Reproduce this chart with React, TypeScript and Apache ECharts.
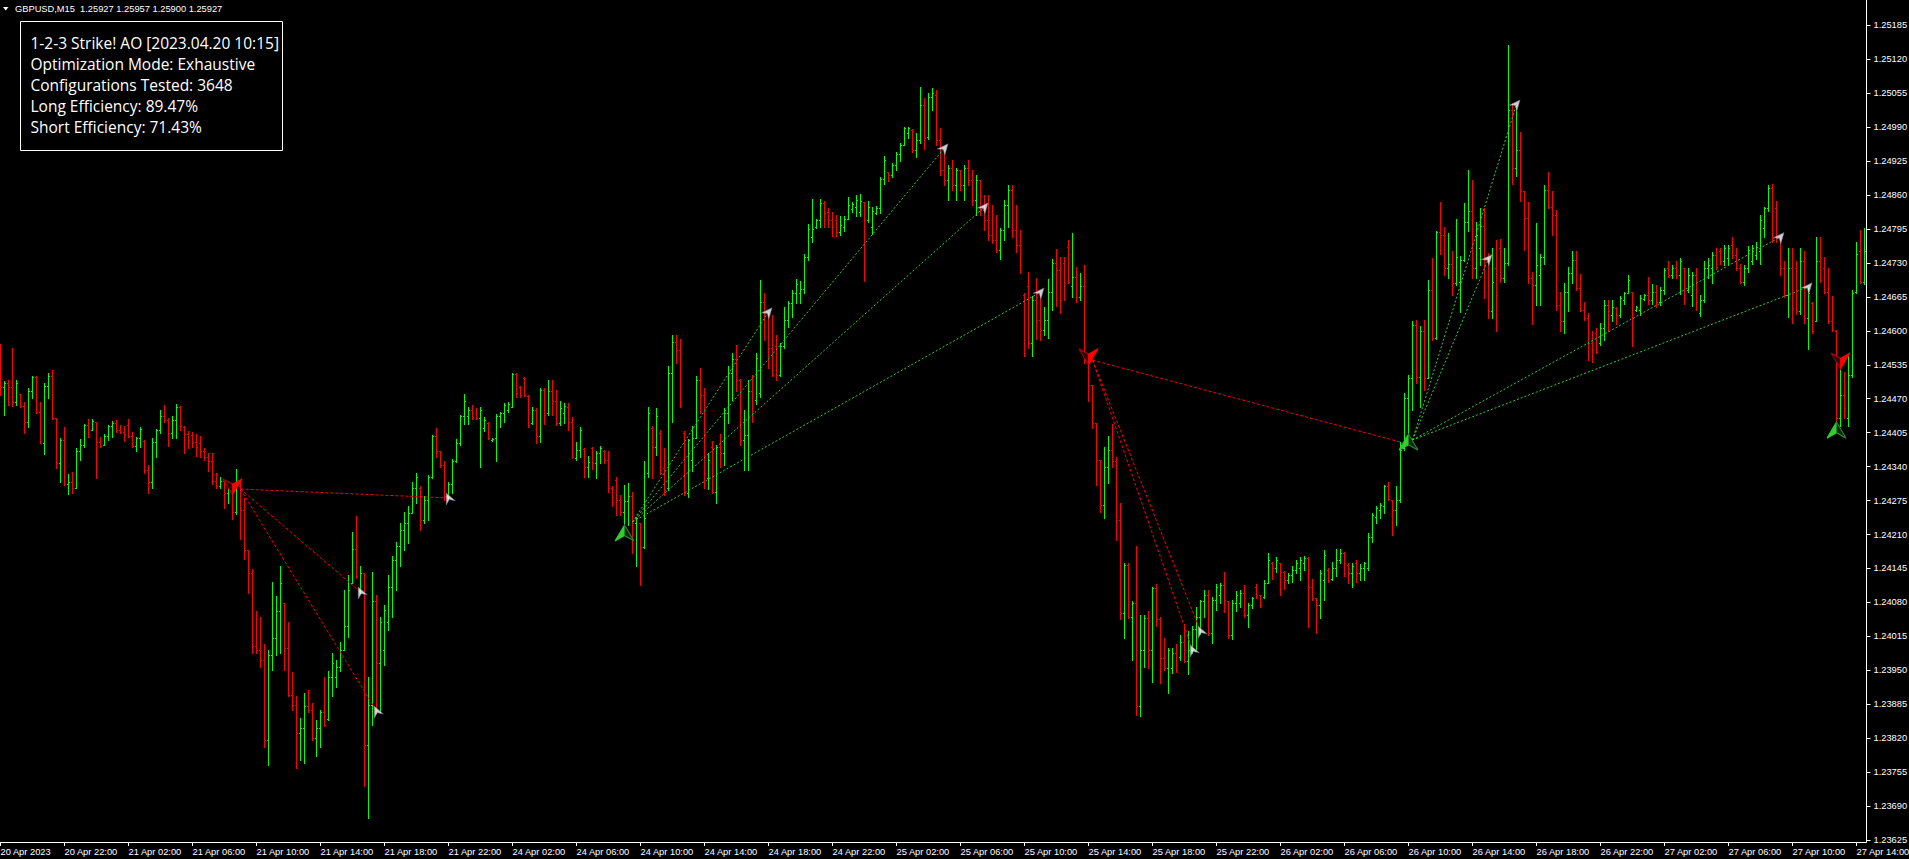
import React, { useEffect, useRef } from 'react';
import * as echarts from 'echarts';

// OHLC bars (M15), values in points (1e-5) above 1.00000: [open, high, low, close]
const apr20 = [
  [24563,24575,24477,24493],[24493,24503,24438,24500],[24500,24506,24458,24492],[24492,24567,24456,24464],
  [24464,24506,24458,24500],[24480,24480,24454,24456],[24456,24464,24405,24426],[24426,24490,24415,24484],
  [24484,24514,24471,24512],[24512,24514,24442,24445],[24445,24464,24385,24386],[24386,24500,24364,24494],
  [24494,24519,24471,24514],[24514,24525,24431,24433],[24433,24433,24337,24346],[24346,24394,24311,24391],
  [24391,24415,24305,24307],[24307,24326,24288,24311],[24311,24329,24289,24299],[24300,24375,24300,24369],
  [24369,24392,24353,24381],[24381,24422,24378,24420],[24420,24431,24396,24397],[24410,24431,24410,24428],
];
const apr21 = [
  [24426,24426,24318,24388],[24388,24396,24378,24380],[24381,24403,24381,24399],[24399,24420,24391,24417],
  [24417,24428,24397,24424],[24424,24429,24407,24410],[24410,24420,24404,24407],[24407,24417,24389,24403],
  [24420,24431,24397,24399],[24399,24407,24378,24380],[24380,24397,24369,24394],[24394,24415,24377,24412],
  [24390,24391,24327,24334],[24334,24343,24289,24311],[24311,24394,24300,24388],[24388,24412,24359,24410],
  [24410,24448,24405,24437],[24437,24458,24426,24429],[24429,24434,24380,24404],[24404,24436,24394,24429],
  [24429,24460,24394,24454],[24454,24457,24410,24417],[24415,24417,24367,24403],[24403,24408,24375,24391],
  [24401,24407,24378,24388],[24388,24403,24360,24378],[24385,24399,24358,24369],[24369,24375,24353,24359],
  [24359,24366,24332,24350],[24350,24367,24307,24313],[24313,24327,24299,24303],[24303,24321,24299,24313],
  [24313,24315,24260,24289],[24289,24311,24271,24305],[24289,24289,24239,24254],[24254,24335,24249,24302],
  [24302,24313,24201,24257],[24257,24279,24163,24181],[24181,24181,24098,24137],[24137,24144,23983,23997],
  [23997,24063,23983,23989],[23989,24052,23957,23970],[23970,24001,23803,23817],[23817,23989,23769,23980],
  [23980,24120,23951,24011],[24011,24093,23980,24063],[24063,24150,23984,24117],[24078,24078,23951,23992],
  [23992,24043,23900,23903],[23903,23946,23874,23884],[23884,23900,23763,23830],[23830,23858,23779,23839],
  [23839,23906,23772,23881],[23881,23913,23871,23874],[23874,23887,23816,23820],[23820,23855,23785,23839],
  [23839,23874,23804,23871],[23871,23938,23844,23846],[23856,23948,23855,23938],[23938,23983,23900,23964],
  [23938,23970,23919,23957],[23957,24005,23948,23989],[23989,24104,23988,24034],[24034,24133,24013,24104],
  [24117,24214,24117,24182],[24182,24246,24126,24130],[24101,24149,24098,24136],[24136,24136,23728,23807],
  [23807,23938,23667,23884],[23884,24139,23846,24082],[24082,24094,23868,23964],[23964,24053,23871,24043],
  [23989,24075,23960,24066],[24043,24133,24027,24110],[24110,24168,24053,24161],[24161,24196,24104,24188],
  [24188,24232,24149,24219],[24219,24254,24181,24233],[24233,24265,24193,24251],[24252,24311,24252,24299],
  [24299,24327,24270,24321],[24299,24302,24218,24238],[24238,24283,24232,24276],[24276,24324,24237,24321],
  [24321,24401,24318,24399],[24399,24413,24359,24369],[24369,24369,24340,24343],[24343,24350,24276,24283],
  [24283,24311,24279,24307],[24307,24354,24289,24350],[24350,24392,24348,24385],[24385,24439,24381,24437],
  [24437,24479,24422,24466],[24436,24454,24422,24448],[24449,24458,24431,24435],[24442,24452,24431,24433],
];
const apr24 = [
  [24433,24454,24340,24449],[24414,24435,24409,24429],[24424,24426,24392,24394],[24391,24394,24390,24392],
  [24394,24441,24350,24436],[24436,24445,24415,24442],[24442,24461,24426,24458],[24449,24463,24444,24460],
  [24455,24519,24454,24517],[24517,24519,24474,24481],[24493,24495,24474,24477],[24509,24511,24475,24477],
  [24475,24477,24415,24420],[24423,24455,24422,24449],[24449,24452,24385,24398],[24398,24490,24388,24487],
  [24487,24490,24422,24439],[24442,24506,24439,24484],[24484,24506,24439,24465],[24465,24487,24420,24423],
  [24423,24465,24420,24452],[24442,24461,24423,24456],[24455,24461,24410,24426],[24426,24435,24356,24359],
  [24356,24388,24352,24372],[24372,24415,24359,24410],[24373,24375,24321,24340],[24340,24361,24321,24348],
  [24375,24377,24335,24347],[24347,24369,24318,24366],[24366,24380,24347,24375],[24369,24371,24347,24353],
  [24353,24369,24292,24299],[24299,24302,24264,24273],[24315,24320,24248,24276],[24276,24286,24248,24254],
  [24254,24305,24232,24275],[24275,24308,24229,24283],[24283,24292,24174,24232],[24232,24244,24149,24241],
  [24232,24233,24114,24187],[24187,24350,24184,24241],[24327,24454,24321,24442],[24414,24417,24318,24378],
  [24378,24452,24362,24436],[24404,24410,24326,24327],[24337,24375,24286,24296],[24299,24532,24296,24519],
  [24519,24592,24426,24579],[24579,24592,24538,24563],[24563,24584,24455,24458],[24404,24409,24286,24289],
  [24289,24392,24281,24391],[24353,24417,24331,24394],[24394,24514,24394,24506],[24506,24528,24442,24477],
  [24477,24490,24299,24327],[24318,24367,24297,24353],[24378,24390,24289,24292],[24292,24382,24270,24378],
  [24378,24403,24339,24366],[24366,24452,24343,24442],[24442,24533,24423,24519],[24519,24558,24468,24546],
  [24546,24573,24484,24506],[24506,24507,24382,24391],[24391,24449,24333,24401],[24401,24506,24333,24484],
  [24484,24516,24426,24442],[24468,24557,24460,24548],[24481,24697,24474,24656],[24656,24673,24583,24634],
  [24634,24634,24528,24567],[24567,24630,24514,24516],[24570,24592,24506,24516],[24516,24576,24514,24570],
  [24570,24646,24567,24620],[24620,24658,24608,24654],[24654,24678,24626,24672],[24672,24699,24654,24690],
  [24672,24696,24654,24681],[24681,24748,24672,24741],[24741,24805,24736,24794],[24780,24852,24771,24794],
  [24799,24815,24796,24812],[24812,24852,24799,24845],[24845,24849,24798,24825],[24828,24835,24799,24812],
  [24812,24828,24782,24799],[24812,24822,24782,24790],[24790,24819,24784,24803],[24799,24820,24792,24814],
  [24814,24857,24814,24841],[24833,24847,24828,24843],[24838,24860,24819,24851],[24828,24862,24820,24849],
];
const apr25 = [
  [24847,24847,24696,24812],[24812,24849,24809,24838],[24799,24838,24785,24830],[24825,24839,24824,24836],
  [24835,24894,24825,24890],[24890,24935,24882,24927],[24905,24905,24886,24898],[24898,24921,24895,24918],
  [24918,24943,24908,24939],[24939,24960,24926,24956],[24956,24991,24956,24988],[24978,24991,24969,24988],
  [24985,24986,24943,24946],[24946,24979,24932,24965],[24965,25067,24960,25032],[25032,25045,24949,24969],
  [24972,25055,24967,25048],[25048,25065,25023,25055],[25052,25061,24956,24965],[24965,24988,24898,24908],
  [24908,24946,24879,24889],[24889,24917,24850,24912],[24912,24927,24870,24879],[24879,24912,24850,24908],
  [24908,24908,24870,24879],[24879,24917,24850,24912],[24912,24927,24879,24889],[24889,24908,24841,24850],
  [24850,24898,24822,24889],[24889,24889,24822,24831],[24831,24860,24793,24812],[24812,24860,24774,24783],
  [24783,24841,24768,24774],[24774,24822,24751,24755],[24755,24797,24737,24793],[24793,24850,24774,24841],
  [24841,24879,24799,24870],[24870,24879,24780,24793],[24793,24841,24751,24764],[24764,24793,24711,24726],
  [24669,24672,24551,24557],[24685,24713,24567,24576],[24576,24667,24551,24659],[24659,24701,24584,24621],
  [24621,24669,24583,24602],[24602,24645,24592,24621],[24621,24699,24586,24675],[24675,24737,24640,24729],
  [24729,24756,24648,24717],[24717,24742,24635,24659],[24729,24741,24659,24691],[24761,24774,24691,24694],
  [24685,24788,24664,24704],[24704,24723,24656,24665],[24665,24710,24659,24685],[24685,24726,24538,24544],
  [24538,24538,24465,24496],[24496,24496,24413,24423],[24423,24423,24305,24353],[24353,24353,24254,24267],
  [24267,24378,24241,24340],[24340,24398,24308,24372],[24372,24422,24340,24350],[24350,24359,24200,24238],
  [24238,24270,24048,24059],[24059,24155,24012,24152],[24152,24155,24050,24053],[24053,24082,23970,24079],
  [24079,24188,23865,23881],[23881,24056,23862,23989],[23989,24056,23957,24050],[24050,24064,23954,23989],
  [23989,24110,23927,24107],[24107,24116,24034,24048],[24048,24052,23925,23973],[23973,24012,23951,23954],
  [23954,23992,23906,23989],[23954,23992,23945,23983],[23983,24001,23946,23951],[23976,24018,23970,24005],
  [24005,24039,23965,23967],[23967,24026,23943,23989],[23989,24034,23983,24029],[24029,24072,23989,24053],
  [24053,24085,24020,24082],[24082,24104,24053,24094],[24094,24103,24018,24021],[24021,24091,24002,24085],
  [24085,24116,24066,24110],[24094,24117,24079,24114],[24114,24139,24061,24085],[24082,24082,24012,24018],
  [24018,24085,24010,24079],[24079,24101,24063,24094],[24079,24104,24072,24098],[24098,24114,24053,24056],
];
const apr26 = [
  [24056,24079,24033,24075],[24075,24091,24069,24088],[24110,24116,24088,24094],[24094,24094,24072,24075],
  [24091,24123,24088,24117],[24117,24174,24117,24161],[24155,24158,24124,24146],[24146,24167,24139,24161],
  [24155,24155,24094,24139],[24139,24141,24105,24123],[24123,24137,24117,24133],[24133,24149,24120,24142],
  [24142,24161,24136,24156],[24146,24167,24122,24161],[24155,24168,24142,24165],[24165,24167,24033,24110],
  [24110,24124,24085,24088],[24088,24088,24021,24075],[24075,24142,24050,24136],[24123,24181,24084,24171],
  [24142,24146,24120,24123],[24124,24158,24122,24146],[24146,24182,24130,24161],[24161,24182,24155,24174],
  [24174,24177,24130,24155],[24152,24155,24117,24136],[24136,24155,24109,24149],[24155,24161,24120,24136],
  [24136,24154,24123,24146],[24146,24158,24123,24155],[24146,24213,24142,24206],[24206,24251,24195,24248],
  [24244,24265,24233,24260],[24257,24270,24241,24267],[24264,24305,24251,24302],[24302,24311,24276,24278],
  [24276,24276,24209,24257],[24257,24302,24228,24276],[24276,24387,24272,24372],[24376,24481,24372,24471],
  [24471,24516,24401,24509],[24509,24618,24449,24611],[24611,24621,24500,24512],[24512,24610,24455,24599],
  [24599,24621,24487,24509],[24509,24698,24509,24678],[24678,24740,24583,24586],[24586,24791,24584,24790],
  [24790,24847,24747,24784],[24784,24798,24706,24720],[24720,24787,24702,24728],[24728,24753,24668,24691],
  [24691,24814,24688,24742],[24694,24744,24636,24736],[24736,24845,24734,24809],[24809,24908,24791,24830],
  [24830,24889,24702,24720],[24720,24809,24702,24784],[24758,24836,24726,24800],[24800,24836,24662,24742],
  [24742,24749,24624,24637],[24637,24758,24624,24694],[24720,24774,24599,24669],[24758,24776,24694,24701],
  [24701,24758,24694,24729],[24729,25147,24726,25023],[25023,25036,24881,24911],[24911,25027,24897,24946],
  [24946,24981,24849,24867],[24867,24867,24755,24816],[24816,24847,24691,24701],[24701,24713,24613,24688],
  [24688,24806,24650,24726],[24707,24747,24650,24742],[24742,24879,24728,24870],[24870,24905,24836,24838],
  [24838,24868,24784,24822],[24822,24831,24640,24650],[24650,24675,24600,24619],[24619,24691,24595,24675],
  [24675,24723,24638,24710],[24710,24752,24691,24736],[24736,24753,24678,24682],[24682,24708,24637,24640],
  [24640,24655,24621,24624],[24624,24634,24544,24576],[24576,24600,24541,24564],[24595,24605,24557,24560],
  [24576,24615,24573,24605],[24605,24659,24583,24650],[24650,24659,24600,24637],[24631,24659,24619,24646],
  [24643,24645,24613,24631],[24631,24666,24627,24662],[24659,24675,24651,24672],[24672,24706,24672,24698],
];
const apr27 = [
  [24675,24675,24570,24624],[24640,24648,24638,24646],[24640,24669,24631,24662],[24661,24670,24659,24669],
  [24669,24704,24651,24659],[24659,24689,24651,24675],[24675,24688,24646,24656],[24656,24683,24650,24678],
  [24678,24721,24670,24717],[24720,24733,24704,24707],[24707,24726,24702,24720],[24720,24734,24702,24707],
  [24707,24740,24670,24733],[24720,24720,24651,24662],[24678,24720,24674,24707],[24669,24713,24648,24707],
  [24707,24720,24640,24656],[24634,24668,24629,24659],[24659,24733,24656,24720],[24720,24739,24701,24726],
  [24720,24750,24691,24745],[24745,24758,24719,24723],[24752,24759,24728,24733],[24733,24765,24726,24758],
  [24739,24765,24726,24758],[24765,24779,24740,24745],[24745,24759,24717,24720],[24720,24728,24691,24694],
  [24694,24726,24687,24720],[24720,24763,24712,24755],[24733,24765,24728,24758],[24745,24770,24738,24761],
  [24752,24822,24728,24812],[24796,24838,24780,24835],[24835,24879,24830,24873],[24873,24881,24771,24777],
  [24835,24849,24771,24780],[24777,24779,24706,24720],[24720,24733,24664,24669],[24669,24758,24627,24720],
  [24720,24758,24615,24643],[24720,24733,24632,24637],[24637,24758,24632,24733],[24733,24753,24615,24624],
  [24624,24682,24565,24672],[24653,24656,24595,24599],[24618,24780,24618,24733],[24733,24780,24693,24698],
  [24720,24742,24672,24675],[24675,24720,24615,24618],[24618,24666,24599,24602],[24599,24602,24423,24433],
  [24433,24528,24417,24477],[24477,24522,24434,24452],[24433,24551,24417,24516],[24516,24678,24512,24672],
  [24675,24771,24672,24747],[24752,24793,24691,24694],[24694,24796,24689,24752],
];

const days = [
  { day: '20 Apr', startHour: 18, bars: apr20 },
  { day: '21 Apr', startHour: 0, bars: apr21 },
  { day: '24 Apr', startHour: 0, bars: apr24 },
  { day: '25 Apr', startHour: 0, bars: apr25 },
  { day: '26 Apr', startHour: 0, bars: apr26 },
  { day: '27 Apr', startHour: 0, bars: apr27 },
];

const tickLabels = [
  '20 Apr 2023', '20 Apr 22:00', '21 Apr 02:00', '21 Apr 06:00', '21 Apr 10:00', '21 Apr 14:00',
  '21 Apr 18:00', '21 Apr 22:00', '24 Apr 02:00', '24 Apr 06:00', '24 Apr 10:00', '24 Apr 14:00',
  '24 Apr 18:00', '24 Apr 22:00', '25 Apr 02:00', '25 Apr 06:00', '25 Apr 10:00', '25 Apr 14:00',
  '25 Apr 18:00', '25 Apr 22:00', '26 Apr 02:00', '26 Apr 06:00', '26 Apr 10:00', '26 Apr 14:00',
  '26 Apr 18:00', '26 Apr 22:00', '27 Apr 02:00', '27 Apr 06:00', '27 Apr 10:00', '27 Apr 14:00',
];

const priceTicks = [
  1.23625, 1.2369, 1.23755, 1.2382, 1.23885, 1.2395, 1.24015, 1.2408, 1.24145, 1.2421, 1.24275, 1.2434,
  1.24405, 1.2447, 1.24535, 1.246, 1.24665, 1.2473, 1.24795, 1.2486, 1.24925, 1.2499, 1.25055, 1.2512, 1.25185,
];

// trade lines: [bar index, price points]
const shortTrades = [
  { entry: [60, 24297], exits: [[90, 24100], [94, 23872], [112, 24280]] },
  { entry: [273, 24544], exits: [[298, 23989], [300, 24025], [350, 24387]] },
];
const longTrades = [
  { entry: [158, 24234], exits: [[192, 24636], [236, 24950], [246, 24837], [260, 24674]] },
  { entry: [353, 24391], exits: [[372, 24738], [379, 25034], [445, 24780], [452, 24684]] },
];
const buySignals = [[156, 24213], [352, 24387], [459, 24410]];
const sellSignals = [[58, 24301], [272, 24550], [460, 24542]];
const longExitMarks = [[192, 24636], [236, 24950], [246, 24837], [260, 24674], [372, 24738], [379, 25034], [445, 24780], [452, 24684]];
const shortExitMarks = [[90, 24100], [94, 23872], [112, 24280], [298, 23989], [300, 24025]];

const headerText = 'GBPUSD,M15  1.25927 1.25957 1.25900 1.25927';
const infoLines = [
  '1-2-3 Strike! AO [2023.04.20 10:15]',
  'Optimization Mode: Exhaustive',
  'Configurations Tested: 3648',
  'Long Efficiency: 89.47%',
  'Short Efficiency: 71.43%',
];

const UP = '#00ff00';
const DOWN = '#ff0000';
const px = (v: number) => 1 + v / 100000;
const pad = (n: number) => (n < 10 ? '0' + n : '' + n);

function buildData() {
  const cats: string[] = [];
  const bars: number[][] = [];
  days.forEach((d) => {
    d.bars.forEach((b, i) => {
      const mins = d.startHour * 60 + i * 15;
      cats.push(`${d.day} ${pad(Math.floor(mins / 60))}:${pad(mins % 60)}`);
      bars.push([bars.length, px(b[0]), px(b[1]), px(b[2]), px(b[3])]);
    });
  });
  return { cats, bars };
}

// arrow halves (up arrow: left, right; down arrow: left, right)
const UP_L = 'path://M10,0 L0,18 L10,12 Z';
const UP_R = 'path://M10,0 L20,18 L10,12 Z';
const DN_L = 'path://M10,18 L0,0 L10,6 Z';
const DN_R = 'path://M10,18 L20,0 L10,6 Z';
const NAV = 'path://M10,0 L20,18 L10,12 L0,18 Z';

function renderBar(_params: any, api: any) {
  const i = api.value(0);
  const o = api.value(1), h = api.value(2), l = api.value(3), c = api.value(4);
  const top = api.coord([i, h]);
  const bot = api.coord([i, l]);
  const po = api.coord([i, o]);
  const pc = api.coord([i, c]);
  const x = Math.floor(top[0]) + 0.5;
  const color = c >= o ? UP : DOWN;
  const yo = Math.round(po[1]) + 0.5;
  const yc = Math.round(pc[1]) + 0.5;
  const st = { stroke: color, lineWidth: 1 };
  return {
    type: 'group',
    children: [
      { type: 'line', shape: { x1: x, y1: Math.round(top[1]), x2: x, y2: Math.round(bot[1]) + 1 }, style: st },
      { type: 'line', shape: { x1: x - 1.5, y1: yo, x2: x - 0.5, y2: yo }, style: st },
      { type: 'line', shape: { x1: x + 0.5, y1: yc, x2: x + 1.5, y2: yc }, style: st },
    ],
  };
}

function buildOption() {
  const { cats, bars } = buildData();
  const lineSeries: any[] = [];
  shortTrades.forEach((t) => {
    t.exits.forEach((e) => {
      lineSeries.push({
        type: 'line', silent: true, symbol: 'none', z: 3,
        data: [[t.entry[0], px(t.entry[1])], [e[0], px(e[1])]],
        lineStyle: { color: '#ff0000', width: 1, type: [3, 2] },
      });
    });
  });
  longTrades.forEach((t) => {
    t.exits.forEach((e) => {
      lineSeries.push({
        type: 'line', silent: true, symbol: 'none', z: 3,
        data: [[t.entry[0], px(t.entry[1])], [e[0], px(e[1])]],
        lineStyle: { color: '#32cd32', width: 1, type: [2, 2] },
      });
    });
  });
  const toPts = (arr: number[][]) => arr.map((p) => [p[0], px(p[1])]);
  const arrowHalf = (data: number[][], symbol: string, dx: number, fill: string, stroke: string) => ({
    type: 'scatter', silent: true, z: 5, data: toPts(data), symbol, symbolSize: [9.5, 16], symbolOffset: [dx, 0],
    itemStyle: { color: fill, borderColor: stroke, borderWidth: 1, opacity: 1 },
  });
  return {
    animation: false,
    backgroundColor: '#000000',
    grid: { left: -1.5, right: 42.5, top: 0, bottom: 17, containLabel: false, outerBoundsMode: 'none' },
    xAxis: {
      type: 'category',
      data: cats,
      boundaryGap: true,
      axisLine: { show: true, lineStyle: { color: '#ffffff', width: 1 } },
      axisTick: { show: true, interval: 15, alignWithLabel: true, length: 4, lineStyle: { color: '#ffffff' } },
      axisLabel: {
        interval: 15, color: '#ffffff', fontSize: 9.3, fontFamily: 'Liberation Sans', align: 'left', margin: 5,
        formatter: (_v: string, idx: number) => tickLabels[Math.round(idx / 16)] || '',
      },
      splitLine: { show: false },
    },
    yAxis: {
      type: 'value', position: 'right', min: 1.236213, max: 1.252334,
      axisLine: { show: true, lineStyle: { color: '#ffffff', width: 1 } },
      axisTick: { show: true, length: 4, lineStyle: { color: '#ffffff' }, customValues: priceTicks },
      axisLabel: {
        color: '#ffffff', fontSize: 9.3, fontFamily: 'Liberation Sans', margin: 7, customValues: priceTicks,
        formatter: (v: number) => v.toFixed(5),
      },
      splitLine: { show: false },
    },
    series: [
      { type: 'custom', renderItem: renderBar, data: bars, encode: { x: 0, y: [1, 2, 3, 4] }, z: 2, silent: true },
      ...lineSeries,
      arrowHalf(buySignals, UP_L, -4.75, '#32cd32', '#32cd32'),
      arrowHalf(buySignals, UP_R, 4.75, '#0b2a0b', '#2e8b2e'),
      arrowHalf(sellSignals, DN_L, -4.75, '#2a0000', '#b00000'),
      arrowHalf(sellSignals, DN_R, 4.75, '#ff0000', '#ff0000'),
      {
        type: 'scatter', silent: true, z: 6, data: toPts(longExitMarks), symbol: NAV, symbolSize: [10, 11], symbolRotate: -40,
        itemStyle: { color: '#ffffff', borderColor: '#6a6a90', borderWidth: 0.6 },
      },
      {
        type: 'scatter', silent: true, z: 6, data: toPts(shortExitMarks), symbol: NAV, symbolSize: [10, 11], symbolRotate: 25,
        itemStyle: { color: '#ffffff', borderColor: '#6a6a90', borderWidth: 0.6 },
      },
    ],
    graphic: [
      { type: 'polygon', z: 100, shape: { points: [[3, 7], [8.5, 7], [5.75, 10.5]] }, style: { fill: '#ffffff' } },
      {
        type: 'text', z: 100, x: 15, y: 8.5,
        style: { text: headerText, fill: '#ffffff', fontSize: 9.3, fontFamily: 'Liberation Sans', textVerticalAlign: 'middle', verticalAlign: 'middle' },
      },
      {
        type: 'rect', z: 100, shape: { x: 20.5, y: 21.5, width: 262, height: 129 },
        style: { fill: '#000000', stroke: '#ffffff', lineWidth: 1 },
      },
      ...infoLines.map((t, i) => ({
        type: 'text', z: 101, x: 30.5, y: 43.3 + i * 20.9,
        style: { text: t, fill: '#ffffff', fontSize: 15.5, fontFamily: 'Open Sans', textVerticalAlign: 'middle', verticalAlign: 'middle' },
      })),
    ],
  };
}

export default function App() {
  const ref = useRef<HTMLDivElement>(null);
  useEffect(() => {
    if (!ref.current) return;
    const chart = echarts.init(ref.current, undefined, { renderer: 'svg' });
    chart.setOption(buildOption() as any);
    return () => chart.dispose();
  }, []);
  return (
    <div
      ref={ref}
      style={{ position: 'fixed', left: 0, top: 0, width: 1909, height: 859, background: '#000000' }}
    />
  );
}
